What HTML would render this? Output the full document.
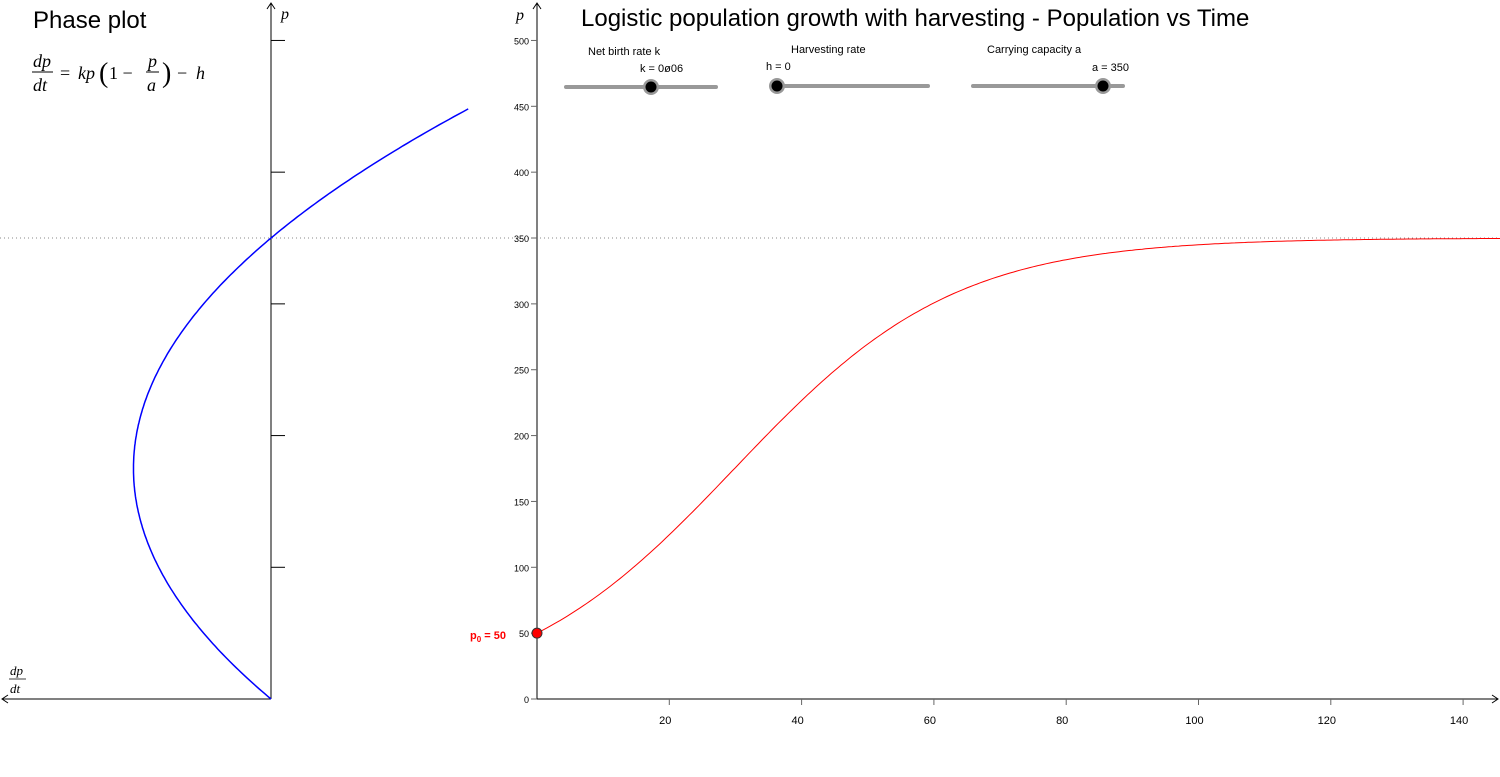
<!DOCTYPE html>
<html><head><meta charset="utf-8"><style>
body{margin:0;background:#fff;width:1500px;height:777px;overflow:hidden;font-family:"Liberation Sans",sans-serif}
svg{display:block}
</style></head><body>
<svg id="s" width="1500" height="777" xmlns="http://www.w3.org/2000/svg" font-family="Liberation Sans, sans-serif">
<text x="33" y="28" font-size="24">Phase plot</text>
<g font-family="Liberation Serif, serif" font-style="italic" font-size="18">
<text x="33" y="67">dp</text><line x1="32" y1="72" x2="53" y2="72" stroke="#000"/><text x="33" y="91">dt</text>
<text x="60" y="79" font-style="normal">= </text><text x="78" y="79">kp</text>
<text x="99" y="82" font-style="normal" font-size="28">(</text><text x="109" y="79" font-style="normal">1 −</text>
<text x="148" y="67">p</text><line x1="146" y1="72" x2="159" y2="72" stroke="#000"/><text x="147" y="91">a</text>
<text x="162" y="82" font-style="normal" font-size="28">)</text><text x="177" y="79" font-style="normal">− </text><text x="196" y="79">h</text>
</g>
<text x="581" y="26" font-size="24">Logistic population growth with harvesting - Population vs Time</text>
<line x1="0" y1="238" x2="1500" y2="238" stroke="#888" stroke-dasharray="1,3"/>
<g id="g"></g>
<g><text x="588" y="55" font-size="11">Net birth rate k</text><text x="640" y="72" font-size="11">k = 0ø06</text>
<line x1="566" y1="87" x2="716" y2="87" stroke="#999" stroke-width="4" stroke-linecap="round"/><circle cx="651" cy="87" r="8" fill="#999"/><circle cx="651" cy="87" r="5.5" fill="#000"/></g>
<g><text x="791" y="53" font-size="11">Harvesting rate</text><text x="766" y="70" font-size="11">h = 0</text>
<line x1="778" y1="86" x2="928" y2="86" stroke="#999" stroke-width="4" stroke-linecap="round"/><circle cx="777" cy="86" r="8" fill="#999"/><circle cx="777" cy="86" r="5.5" fill="#000"/></g>
<g><text x="987" y="53" font-size="11">Carrying capacity a</text><text x="1092" y="71" font-size="11">a = 350</text>
<line x1="973" y1="86" x2="1123" y2="86" stroke="#999" stroke-width="4" stroke-linecap="round"/><circle cx="1103" cy="86" r="8" fill="#999"/><circle cx="1103" cy="86" r="5.5" fill="#000"/></g>
</svg>
<script>
const xTicks=[20,40,60,80,100,120,140];
const yTicks=[0,50,100,150,200,250,300,350,400,450,500];
const phaseTicks=[100,200,300,400,500];
const k=[0.06];const a=[350];const h=[0];const p0=[50];
const NS="http://www.w3.org/2000/svg";
const g=document.getElementById('g');
const X=t=>537+t*6.615, Y=p=>699-p*1.3171, PX=f=>271-f*26.2;
function el(t,at,par){const e=document.createElementNS(NS,t);for(const q in at)e.setAttribute(q,at[q]);(par||g).appendChild(e);return e;}
let ax=el('path',{d:'M537,699H1498M1492,695L1498,699L1492,703M537,699V3M533,9L537,3L541,9',stroke:'#000',fill:'none'});


xTicks.forEach(t=>{el('line',{x1:X(t),y1:699,x2:X(t),y2:705,stroke:'#666'});
let tx=el('text',{x:X(t)-4,y:724,'font-size':11,'text-anchor':'middle'});tx.textContent=t;

});
yTicks.forEach(p=>{el('line',{x1:537,y1:Y(p),x2:531,y2:Y(p),stroke:'#666'});
let tx=el('text',{x:529,y:Y(p)+4,'font-size':9,'text-anchor':'end'});tx.textContent=p;

});
let pl=el('text',{x:516,y:20,'font-size':16,'font-style':'italic','font-family':'Liberation Serif, serif'});pl.textContent='p';


let d='';for(let t=0;t<=146;t+=0.5){const p=a[0]/(1+(a[0]/p0[0]-1)*Math.exp(-k[0]*t));d+=(t?'L':'M')+X(t).toFixed(1)+','+Y(p).toFixed(1);}
let c=el('path',{d:d,stroke:'#f00',fill:'none','stroke-width':1});


let pt=el('circle',{cx:537,cy:Y(p0[0]),r:5,fill:'#f00',stroke:'#333'});


let lb=el('text',{x:470,y:Y(p0[0])+6,'font-size':11,'font-weight':'bold',fill:'#f00'});lb.innerHTML='p<tspan font-size="8" dy="3">0</tspan><tspan dy="-3"> = 50</tspan>';


let pa=el('path',{d:'M2,699H271M8,695L2,699L8,703M271,699V3M267,9L271,3L275,9',stroke:'#000',fill:'none'});


phaseTicks.forEach(p=>el('line',{x1:271,y1:Y(p),x2:285,y2:Y(p),stroke:'#000'}));
let pp=el('text',{x:281,y:19,'font-size':16,'font-style':'italic','font-family':'Liberation Serif, serif'});pp.textContent='p';


let dx=el('text',{x:10,y:675,'font-size':13,'font-style':'italic','font-family':'Liberation Serif, serif'});dx.innerHTML='dp<tspan x="10" dy="18">dt</tspan>';


el('line',{x1:9,y1:679,x2:26,y2:679,stroke:'#000','stroke-width':0.8});
let dd='';for(let p=0;p<=449;p+=2){const f=k[0]*p*(1-p/a[0])-h[0];dd+=(p?'L':'M')+PX(f).toFixed(1)+','+Y(p).toFixed(1);}
let pc=el('path',{d:dd,stroke:'#00f',fill:'none','stroke-width':1.5});


</script>
</body></html>
